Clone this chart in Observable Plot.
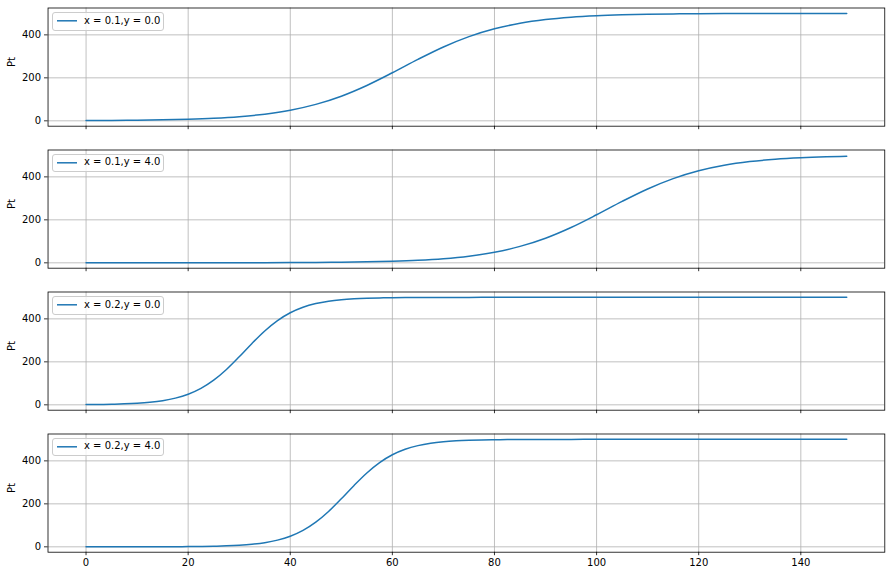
<!DOCTYPE html>
<html>
<head>
<meta charset="utf-8">
<script src="https://cdn.jsdelivr.net/npm/d3@7"></script>
<script src="https://cdn.jsdelivr.net/npm/@observablehq/plot@0.6"></script>
<style>
  html, body { margin: 0; padding: 0; background: #fff; }
  #wrap { position: relative; width: 891px; height: 575px; overflow: hidden; font-family: "DejaVu Sans", sans-serif; }
  #wrap svg.plot { position: absolute; left: 0; }
  .leg { position: absolute; box-sizing: border-box; border: 1px solid #cccccc; border-radius: 3px; background: rgba(255,255,255,0.8); }
  .leg span { position: absolute; font: 10px "DejaVu Sans", sans-serif; line-height: 12px; white-space: nowrap; color: #000; }
</style>
</head>
<body>
<div id="wrap"></div>
<script>
// ---- data ----
const seriesLabels = ["x = 0.1,y = 0.0", "x = 0.1,y = 4.0", "x = 0.2,y = 0.0", "x = 0.2,y = 4.0"];
const xTicks = [0, 20, 40, 60, 80, 100, 120, 140];
const yTicks = [0, 200, 400];

const tSlow = [0,5,10,15,20,25,30,35,40,45,50,55,60,65,70,75,80,85,90,95,100,105,110,115,120,125,130,135,140,145,149];
const pA = [1,1.65,2.7,4.45,7.3,11.9,19.3,31.1,49.3,76.4,114.6,164.5,223.5,285.7,343.6,391.8,428.3,453.9,471.0,482.0,488.9,493.2,495.9,497.5,498.5,499.1,499.4,499.7,499.8,499.9,499.9];
const pB = [0.02,0.03,0.05,0.08,0.14,0.22,0.37,0.61,1,1.65,2.7,4.45,7.3,11.9,19.3,31.1,49.3,76.4,114.6,164.5,223.5,285.7,343.6,391.8,428.3,453.9,471.0,482.0,488.9,493.2,495.4];

const tFast = [0,2.5,5,7.5,10,12.5,15,17.5,20,22.5,25,27.5,30,32.5,35,37.5,40,42.5,45,47.5,50,52.5,55,57.5,60,62.5,65,67.5,70,72.5,75,77.5,80,82.5,85,87.5,90,92.5,95,97.5,100,110,120,130,140,149];
const pC = [1,1.65,2.7,4.45,7.3,11.9,19.3,31.1,49.3,76.4,114.6,164.5,223.5,285.7,343.6,391.8,428.3,453.9,471.0,482.0,488.9,493.2,495.9,497.5,498.5,499.1,499.4,499.7,499.8,499.9,499.9,500,500,500,500,500,500,500,500,500,500,500,500,500,500,500];
const pD = [0.02,0.03,0.05,0.08,0.14,0.22,0.37,0.61,1,1.65,2.7,4.45,7.3,11.9,19.3,31.1,49.3,76.4,114.6,164.5,223.5,285.7,343.6,391.8,428.3,453.9,471.0,482.0,488.9,493.2,495.9,497.5,498.5,499.1,499.4,499.7,499.8,499.9,499.9,500,500,500,500,500,500,500];

const panels = [
  {t: tSlow, p: pA},
  {t: tSlow, p: pB},
  {t: tFast, p: pC},
  {t: tFast, p: pD}
];

// ---- layout ----
const W = 891;
const mL = 47.5, mR = 6.7;
const frameTops = [7.5, 149.3, 291.5, 433];
const frameH = 118.2;
const lineColor = "#1f77b4";

const wrap = document.getElementById("wrap");

panels.forEach((pan, i) => {
  const last = i === panels.length - 1;
  const data = pan.t.map((t, k) => ({t, v: pan.p[k]}));
  const top = frameTops[i] - 7.5;
  const mB = last ? 575 - (frameTops[i] + frameH) : 16;
  const H = 7.5 + frameH + mB;
  const svg = Plot.plot({
    width: W,
    height: H,
    marginLeft: mL,
    marginRight: mR,
    marginTop: 7.5,
    marginBottom: mB,
    style: {fontFamily: "DejaVu Sans, sans-serif", fontSize: "10px", background: "transparent", color: "#000", overflow: "visible"},
    x: {domain: [-7.45, 156.45]},
    y: {domain: [-25, 525]},
    marks: [
      Plot.gridX(xTicks, {stroke: "#b0b0b0", strokeOpacity: 1, strokeWidth: 0.8}),
      Plot.gridY(yTicks, {stroke: "#b0b0b0", strokeOpacity: 1, strokeWidth: 0.8}),
      Plot.line(data, {x: "t", y: "v", stroke: lineColor, strokeWidth: 1.5, curve: "monotone-x"}),
      Plot.frame({stroke: "#000", strokeWidth: 0.8}),
      Plot.axisX({ticks: xTicks, tickSize: 3.5, tickPadding: 3.5, label: null, strokeWidth: 0.8,
                  tickFormat: last ? (d => String(d)) : (() => "")}),
      Plot.axisY({ticks: yTicks, tickSize: 3.5, tickPadding: 3.5, label: null, strokeWidth: 0.8}),
      Plot.text(["Pt"], {frameAnchor: "left", dx: -36.5, rotate: -90, fontSize: 10, fill: "#000"})
    ]
  });
  svg.classList.add("plot");
  svg.style.top = top + "px";
  wrap.appendChild(svg);

  // legend box
  const leg = document.createElement("div");
  leg.className = "leg";
  leg.style.left = (mL + 4.5) + "px";
  leg.style.top = (frameTops[i] + 4.5) + "px";
  leg.style.width = "112px";
  leg.style.height = "18.5px";
  const ns = "http://www.w3.org/2000/svg";
  const ls = document.createElementNS(ns, "svg");
  ls.setAttribute("width", "24");
  ls.setAttribute("height", "18");
  ls.style.position = "absolute";
  ls.style.left = "2px";
  ls.style.top = "0px";
  const ln = document.createElementNS(ns, "line");
  ln.setAttribute("x1", "2"); ln.setAttribute("x2", "22");
  ln.setAttribute("y1", "7.8"); ln.setAttribute("y2", "7.8");
  ln.setAttribute("stroke", lineColor); ln.setAttribute("stroke-width", "1.5");
  ls.appendChild(ln);
  leg.appendChild(ls);
  const sp = document.createElement("span");
  sp.textContent = seriesLabels[i];
  sp.style.left = "31px";
  sp.style.top = "1.5px";
  leg.appendChild(sp);
  wrap.appendChild(leg);
});
</script>
</body>
</html>
